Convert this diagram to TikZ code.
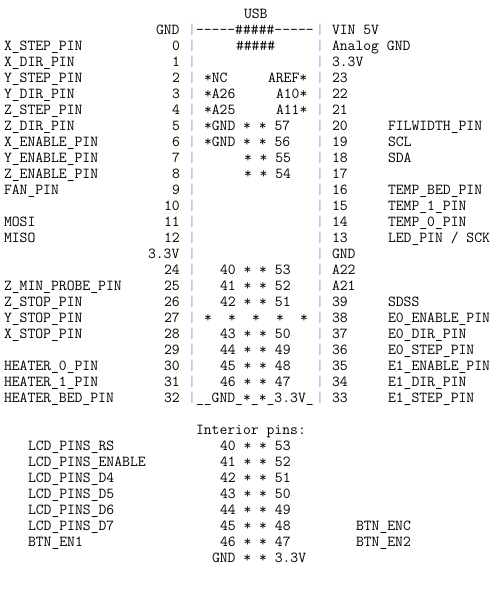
\documentclass[tikz,border=0pt]{standalone}
\usepackage{fontspec}
\definecolor{barblue}{RGB}{120,172,230}
\tikzset{
  txt/.style={anchor=base west, inner sep=0pt, outer sep=0pt, font=\ttfamily\fontsize{11.43pt}{12pt}\selectfont, text=black},
  bar/.style={txt, text=barblue}
}
% \T{name}{col}{line}{text}
\newcommand\T[4]{\node[txt] (#1) at ({4+8*#2},{-(18+16*#3)}) {#4};}
\newcommand\Bar[3]{\node[bar] (#1) at ({4+8*#2},{-(18+16*#3)}) {|};}
\frenchspacing
\begin{document}
\begin{tikzpicture}[x=0.75pt,y=0.75pt]
\useasboundingbox (0,0) rectangle (500,-593);
% bars of the board outline
\foreach \k in {1,...,24} {
  \Bar{bl\k}{23}{\k}
  \Bar{br\k}{39}{\k}
}
\T{usb}{30}{0}{USB}
\T{gndl}{19}{1}{GND}
\T{top}{24}{1}{-{}-{}-{}-{}-\#\#\#\#\#-{}-{}-{}-{}-}
\T{vin}{41}{1}{VIN 5V}
\T{l2}{0}{2}{X\_STEP\_PIN}\T{n2}{21}{2}{0}\T{hash}{29}{2}{\#\#\#\#\#}\T{r2}{41}{2}{Analog GND}
\T{l3}{0}{3}{X\_DIR\_PIN}\T{n3}{21}{3}{1}\T{r3}{41}{3}{3.3V}
\T{l4}{0}{4}{Y\_STEP\_PIN}\T{n4}{21}{4}{2}\T{i4a}{25}{4}{*NC}\T{i4b}{33}{4}{AREF*}\T{r4}{41}{4}{23}
\T{l5}{0}{5}{Y\_DIR\_PIN}\T{n5}{21}{5}{3}\T{i5a}{25}{5}{*A26}\T{i5b}{34}{5}{A10*}\T{r5}{41}{5}{22}
\T{l6}{0}{6}{Z\_STEP\_PIN}\T{n6}{21}{6}{4}\T{i6a}{25}{6}{*A25}\T{i6b}{34}{6}{A11*}\T{r6}{41}{6}{21}
\T{l7}{0}{7}{Z\_DIR\_PIN}\T{n7}{21}{7}{5}\T{i7}{25}{7}{*GND * * 57}\T{r7}{41}{7}{20}\T{f7}{48}{7}{FILWIDTH\_PIN}
\T{l8}{0}{8}{X\_ENABLE\_PIN}\T{n8}{21}{8}{6}\T{i8}{25}{8}{*GND * * 56}\T{r8}{41}{8}{19}\T{f8}{48}{8}{SCL}
\T{l9}{0}{9}{Y\_ENABLE\_PIN}\T{n9}{21}{9}{7}\T{i9}{30}{9}{* * 55}\T{r9}{41}{9}{18}\T{f9}{48}{9}{SDA}
\T{l10}{0}{10}{Z\_ENABLE\_PIN}\T{n10}{21}{10}{8}\T{i10}{30}{10}{* * 54}\T{r10}{41}{10}{17}
\T{l11}{0}{11}{FAN\_PIN}\T{n11}{21}{11}{9}\T{r11}{41}{11}{16}\T{f11}{48}{11}{TEMP\_BED\_PIN}
\T{n12}{20}{12}{10}\T{r12}{41}{12}{15}\T{f12}{48}{12}{TEMP\_1\_PIN}
\T{l13}{0}{13}{MOSI}\T{n13}{20}{13}{11}\T{r13}{41}{13}{14}\T{f13}{48}{13}{TEMP\_0\_PIN}
\T{l14}{0}{14}{MISO}\T{n14}{20}{14}{12}\T{r14}{41}{14}{13}\T{f14}{48}{14}{LED\_PIN / SCK}
\T{n15}{18}{15}{3.3V}\T{r15}{41}{15}{GND}
\T{n16}{20}{16}{24}\T{i16}{27}{16}{40 * * 53}\T{r16}{41}{16}{A22}
\T{l17}{0}{17}{Z\_MIN\_PROBE\_PIN}\T{n17}{20}{17}{25}\T{i17}{27}{17}{41 * * 52}\T{r17}{41}{17}{A21}
\T{l18}{0}{18}{Z\_STOP\_PIN}\T{n18}{20}{18}{26}\T{i18}{27}{18}{42 * * 51}\T{r18}{41}{18}{39}\T{f18}{48}{18}{SDSS}
\T{l19}{0}{19}{Y\_STOP\_PIN}\T{n19}{20}{19}{27}
\T{s19a}{25}{19}{*}\T{s19b}{28}{19}{*}\T{s19c}{31}{19}{*}\T{s19d}{34}{19}{*}\T{s19e}{37}{19}{*}
\T{r19}{41}{19}{38}\T{f19}{48}{19}{E0\_ENABLE\_PIN}
\T{l20}{0}{20}{X\_STOP\_PIN}\T{n20}{20}{20}{28}\T{i20}{27}{20}{43 * * 50}\T{r20}{41}{20}{37}\T{f20}{48}{20}{E0\_DIR\_PIN}
\T{n21}{20}{21}{29}\T{i21}{27}{21}{44 * * 49}\T{r21}{41}{21}{36}\T{f21}{48}{21}{E0\_STEP\_PIN}
\T{l22}{0}{22}{HEATER\_0\_PIN}\T{n22}{20}{22}{30}\T{i22}{27}{22}{45 * * 48}\T{r22}{41}{22}{35}\T{f22}{48}{22}{E1\_ENABLE\_PIN}
\T{l23}{0}{23}{HEATER\_1\_PIN}\T{n23}{20}{23}{31}\T{i23}{27}{23}{46 * * 47}\T{r23}{41}{23}{34}\T{f23}{48}{23}{E1\_DIR\_PIN}
\T{l24}{0}{24}{HEATER\_BED\_PIN}\T{n24}{20}{24}{32}\T{bot}{24}{24}{\_\_GND\_*\_*\_3.3V\_}\T{r24}{41}{24}{33}\T{f24}{48}{24}{E1\_STEP\_PIN}
% interior pins
\T{inth}{24}{26}{Interior pins:}
\T{p27}{3}{27}{LCD\_PINS\_RS}\T{q27}{27}{27}{40 * * 53}
\T{p28}{3}{28}{LCD\_PINS\_ENABLE}\T{q28}{27}{28}{41 * * 52}
\T{p29}{3}{29}{LCD\_PINS\_D4}\T{q29}{27}{29}{42 * * 51}
\T{p30}{3}{30}{LCD\_PINS\_D5}\T{q30}{27}{30}{43 * * 50}
\T{p31}{3}{31}{LCD\_PINS\_D6}\T{q31}{27}{31}{44 * * 49}
\T{p32}{3}{32}{LCD\_PINS\_D7}\T{q32}{27}{32}{45 * * 48}\T{e32}{44}{32}{BTN\_ENC}
\T{p33}{3}{33}{BTN\_EN1}\T{q33}{27}{33}{46 * * 47}\T{e33}{44}{33}{BTN\_EN2}
\T{q34}{26}{34}{GND * * 3.3V}
\end{tikzpicture}
\end{document}
